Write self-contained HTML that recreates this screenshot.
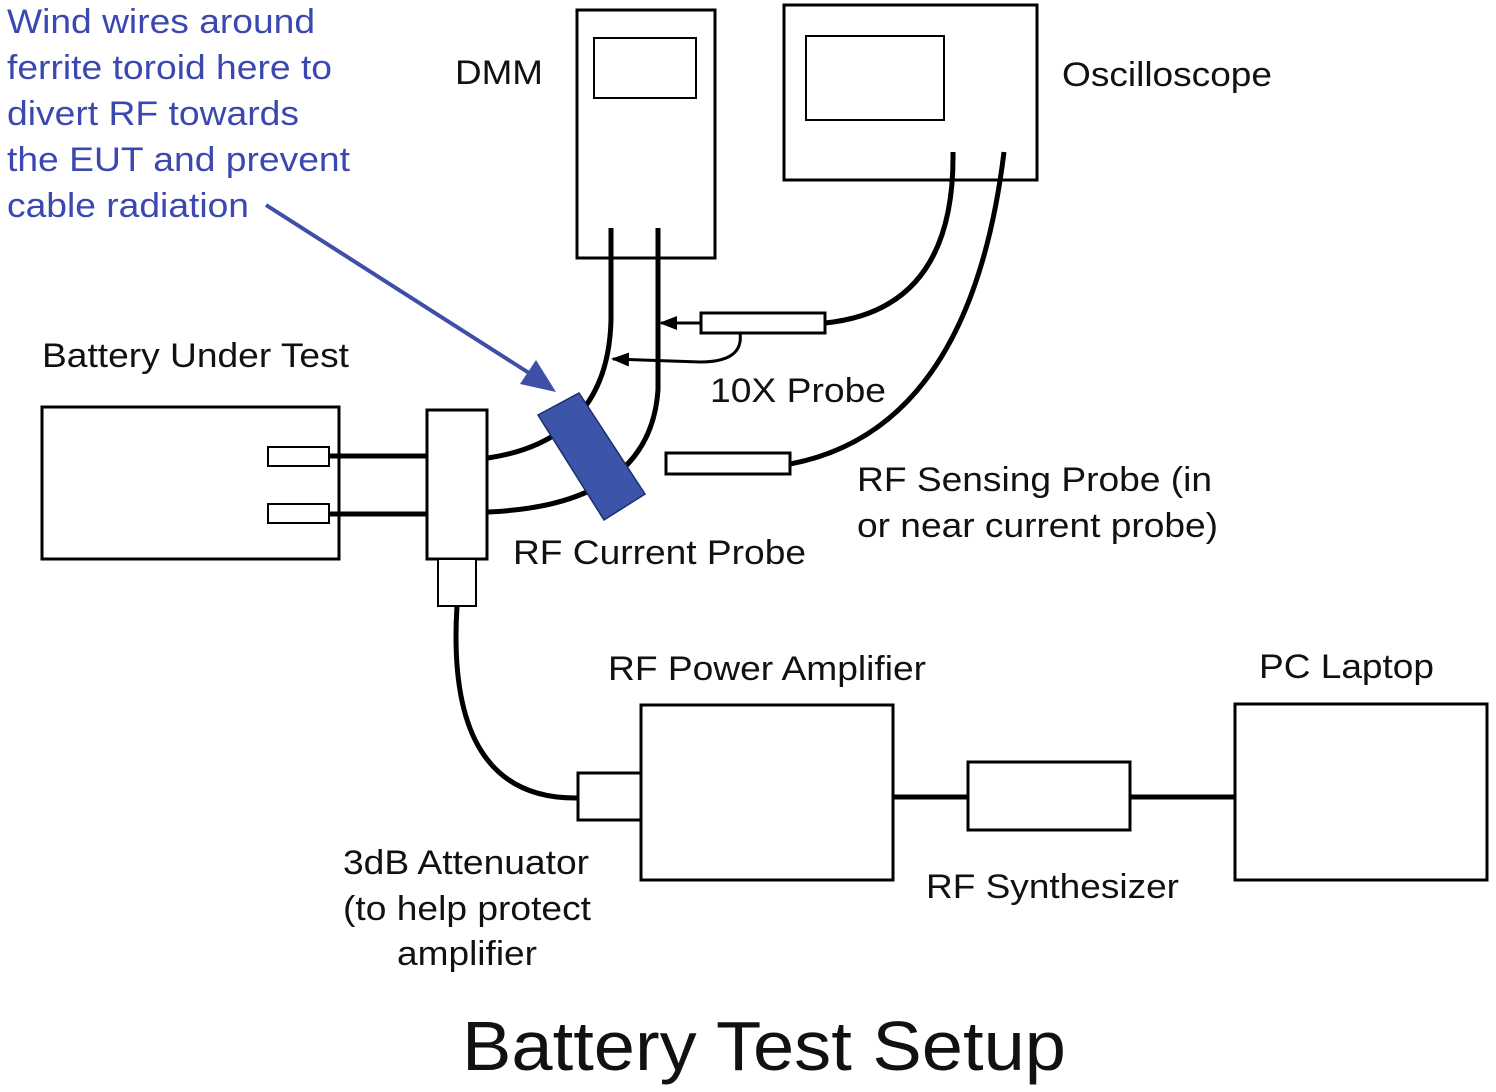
<!DOCTYPE html>
<html><head><meta charset="utf-8"><style>
html,body{margin:0;padding:0;background:#fff}
svg{display:block}
text{font-family:"Liberation Sans",sans-serif}
</style></head><body>
<svg width="1496" height="1092" viewBox="0 0 1496 1092" xmlns="http://www.w3.org/2000/svg">
<defs>
<marker id="ah" markerWidth="18" markerHeight="16" refX="16" refY="8" orient="auto" markerUnits="userSpaceOnUse"><path d="M0,1 L18,8 L0,15 z" fill="#000"/></marker>
</defs>
<g fill="#fff" stroke="#000" stroke-width="3">
<rect x="577" y="10" width="138" height="248"/>
<rect x="594" y="38" width="102" height="60" stroke-width="2"/>
<rect x="784" y="5" width="253" height="175"/>
<rect x="806" y="36" width="138" height="84" stroke-width="2"/>
<rect x="42" y="407" width="297" height="152"/>
<rect x="268" y="447" width="61" height="19" stroke-width="2"/>
<rect x="268" y="504" width="61" height="19" stroke-width="2"/>
<rect x="427" y="410" width="60" height="149"/>
<rect x="438" y="559" width="38" height="47" stroke-width="2"/>
<rect x="701" y="313" width="124" height="20"/>
<rect x="666" y="453" width="124" height="21"/>
<rect x="578" y="773" width="63" height="47"/>
<rect x="641" y="705" width="252" height="175"/>
<rect x="968" y="762" width="162" height="68"/>
<rect x="1235" y="704" width="252" height="176"/>
</g>
<g fill="none" stroke="#000" stroke-width="5">
<line x1="329" y1="456" x2="427" y2="456"/>
<line x1="329" y1="514" x2="427" y2="514"/>
<path d="M611,228 L611,320 Q608,440 488,458"/>
<path d="M658,228 L658,390 Q650,505 488,512"/>
<path d="M953,152 Q955,310 825,323"/>
<path d="M1004,152 Q970,430 790,464"/>
<path d="M457,606 Q445,800 578,798"/>
<line x1="893" y1="797" x2="968" y2="797"/>
<line x1="1130" y1="797" x2="1235" y2="797"/>
</g>
<g fill="none" stroke="#000" stroke-width="3">
<line x1="701" y1="323" x2="661" y2="323" marker-end="url(#ah)"/>
<path d="M740,333 Q744,362 700,362 L613,359" marker-end="url(#ah)"/>
</g>
<polygon points="538,415 579,393 645,494 604,520" fill="#3d55a8" stroke="#1e2d70" stroke-width="1.5"/>
<line x1="266" y1="205" x2="540" y2="380" stroke="#3d4fa8" stroke-width="4"/>
<polygon points="556,392 520,384 536,360" fill="#3d4fa8"/>
<g font-size="34" fill="#3b48b0" lengthAdjust="spacingAndGlyphs">
<text x="7" y="33" textLength="308" lengthAdjust="spacingAndGlyphs">Wind wires around</text>
<text x="7" y="79" textLength="325" lengthAdjust="spacingAndGlyphs">ferrite toroid here to</text>
<text x="7" y="125" textLength="292" lengthAdjust="spacingAndGlyphs">divert RF towards</text>
<text x="7" y="171" textLength="343" lengthAdjust="spacingAndGlyphs">the EUT and prevent</text>
<text x="7" y="217" textLength="242" lengthAdjust="spacingAndGlyphs">cable radiation</text>
</g>
<g font-size="34" fill="#111">
<text x="455" y="84" textLength="88" lengthAdjust="spacingAndGlyphs">DMM</text>
<text x="1062" y="86" textLength="210" lengthAdjust="spacingAndGlyphs">Oscilloscope</text>
<text x="42" y="367" textLength="307" lengthAdjust="spacingAndGlyphs">Battery Under Test</text>
<text x="710" y="402" textLength="176" lengthAdjust="spacingAndGlyphs">10X Probe</text>
<text x="857" y="491" textLength="355" lengthAdjust="spacingAndGlyphs">RF Sensing Probe (in</text>
<text x="857" y="537" textLength="361" lengthAdjust="spacingAndGlyphs">or near current probe)</text>
<text x="513" y="564" textLength="293" lengthAdjust="spacingAndGlyphs">RF Current Probe</text>
<text x="608" y="680" textLength="318" lengthAdjust="spacingAndGlyphs">RF Power Amplifier</text>
<text x="1259" y="678" textLength="175" lengthAdjust="spacingAndGlyphs">PC Laptop</text>
<text x="926" y="898" textLength="253" lengthAdjust="spacingAndGlyphs">RF Synthesizer</text>
<text x="343" y="874" textLength="246" lengthAdjust="spacingAndGlyphs">3dB Attenuator</text>
<text x="343" y="920" textLength="248" lengthAdjust="spacingAndGlyphs">(to help protect</text>
<text x="397" y="965" textLength="140" lengthAdjust="spacingAndGlyphs">amplifier</text>
<text x="462" y="1070" font-size="70" textLength="604" lengthAdjust="spacingAndGlyphs">Battery Test Setup</text>
</g>
</svg>
</body></html>
